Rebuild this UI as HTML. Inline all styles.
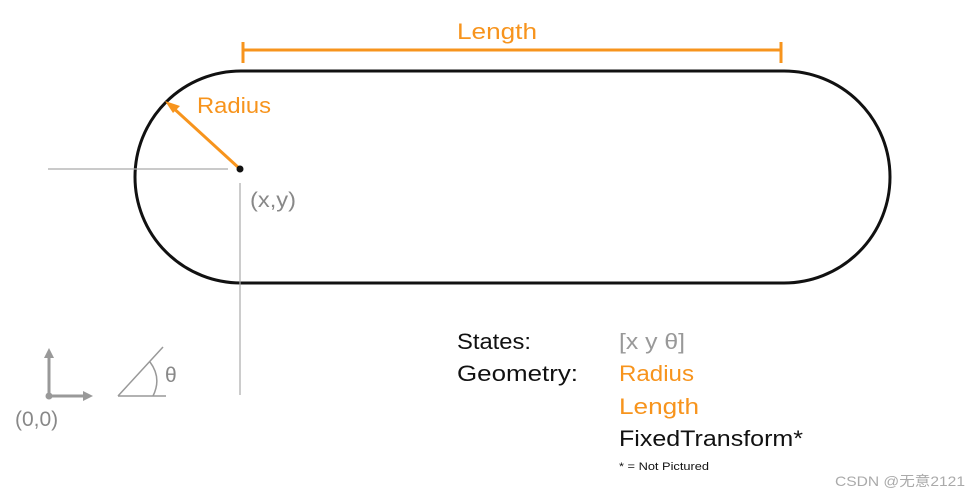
<!DOCTYPE html>
<html><head><style>body{margin:0;background:#fff}svg{display:block}</style></head><body>
<svg width="980" height="498" viewBox="0 0 980 498" xmlns="http://www.w3.org/2000/svg" font-family="Liberation Sans, sans-serif">
<rect x="135" y="71" width="755" height="212" rx="106" ry="106" fill="none" stroke="#111" stroke-width="3"/>
<g stroke="#f7941d" stroke-width="3">
<line x1="243" y1="50" x2="781" y2="50"/><line x1="243" y1="42" x2="243" y2="63"/><line x1="781" y1="42" x2="781" y2="63"/>
<line x1="240" y1="169" x2="170" y2="105"/>
</g>
<polygon points="165,101 180,106 173,113" fill="#f7941d"/>
<g lengthAdjust="spacingAndGlyphs">
<text x="457" y="39" fill="#f7941d" font-size="22" textLength="80" lengthAdjust="spacingAndGlyphs">Length</text>
<text x="197" y="113" fill="#f7941d" font-size="22" textLength="74" lengthAdjust="spacingAndGlyphs">Radius</text>
<text x="250" y="207" fill="#888" font-size="21" textLength="46" lengthAdjust="spacingAndGlyphs">(x,y)</text>
</g>
<line x1="48" y1="169" x2="228" y2="169" stroke="#aaa" stroke-width="1.2"/>
<line x1="240" y1="183" x2="240" y2="395" stroke="#aaa" stroke-width="1.2"/>
<circle cx="240" cy="169" r="3.5" fill="#111"/>
<g stroke="#999" stroke-width="3" fill="none"><line x1="49" y1="396" x2="49" y2="355"/><line x1="49" y1="396" x2="86" y2="396"/></g>
<polygon points="49,348 44,358 54,358" fill="#999"/><polygon points="93,396 83,391 83,401" fill="#999"/>
<circle cx="49" cy="396" r="3.5" fill="#999"/>
<text x="15" y="426" fill="#888" font-size="21">(0,0)</text>
<g stroke="#999" stroke-width="1.5" fill="none"><line x1="118" y1="396" x2="163" y2="347"/><line x1="118" y1="396" x2="166" y2="396"/><path d="M150,362 Q162,378 153,396"/></g>
<text x="165" y="382" fill="#888" font-size="21">θ</text>
<g font-size="22">
<text x="457" y="349" fill="#111" textLength="74" lengthAdjust="spacingAndGlyphs">States:</text><text x="619" y="349" fill="#999" textLength="66" lengthAdjust="spacingAndGlyphs">[x y θ]</text>
<text x="457" y="381" fill="#111" textLength="121" lengthAdjust="spacingAndGlyphs">Geometry:</text><text x="619" y="381" fill="#f7941d" textLength="75" lengthAdjust="spacingAndGlyphs">Radius</text>
<text x="619" y="414" fill="#f7941d" textLength="80" lengthAdjust="spacingAndGlyphs">Length</text>
<text x="619" y="446" fill="#111" textLength="184" lengthAdjust="spacingAndGlyphs">FixedTransform*</text>
</g>
<text x="619" y="470" fill="#111" font-size="11" textLength="90" lengthAdjust="spacingAndGlyphs">* = Not Pictured</text>
<text x="835" y="486" fill="#aaa" font-size="14" font-family="Liberation Sans, Noto Sans CJK SC, sans-serif" textLength="130" lengthAdjust="spacingAndGlyphs">CSDN @无意2121</text>
</svg>
</body></html>
